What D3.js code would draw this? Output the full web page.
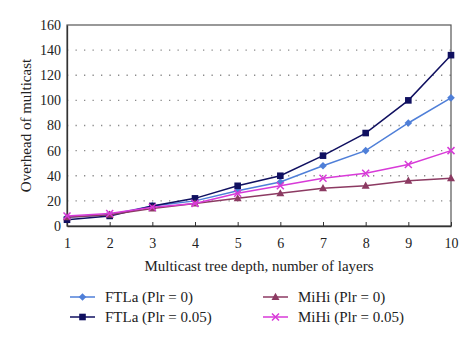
<!DOCTYPE html>
<html>
<head>
<meta charset="utf-8">
<script src="https://cdn.jsdelivr.net/npm/d3@7"></script>
<style>
  body { margin: 0; background: #fff; }
  svg text { font-family: "Liberation Serif", "Times New Roman", Times, "DejaVu Serif", serif; fill: #222; }
</style>
</head>
<body>
<svg id="chart" width="474" height="345"></svg>
<script>
// tree depth on x, multicast overhead on y
let depths = [1, 2, 3, 4, 5, 6, 7, 8, 9, 10];
let ftla0 = [7, 9, 16, 20, 28, 35, 48, 60, 82, 102];
let ftla005 = [5, 8, 16, 22, 32, 40, 56, 74, 100, 136];
let mihi0 = [7, 9, 14, 18, 22, 26, 30, 32, 36, 38];
let mihi005 = [8, 10, 15, 18, 26, 32, 38, 42, 49, 60];
let yTicks = [0, 20, 40, 60, 80, 100, 120, 140, 160];
let seriesNames = ['FTLa (Plr = 0)', 'FTLa (Plr = 0.05)', 'MiHi (Plr = 0)', 'MiHi (Plr = 0.05)'];

let fontStack = '"Liberation Serif", "Times New Roman", Times, "DejaVu Serif", serif';

let series = [
    { name: seriesNames[0], values: ftla0, color: '#4f7fd8', mark: 'diamond' },
    { name: seriesNames[1], values: ftla005, color: '#101060', mark: 'square' },
    { name: seriesNames[2], values: mihi0, color: '#8c3a62', mark: 'triangle' },
    { name: seriesNames[3], values: mihi005, color: '#d83ad8', mark: 'cross' },
];

let svg = d3.select('#chart');
let margin = { left: 67, right: 23, top: 25, bottom: 119 };
let W = 474 - margin.left - margin.right;
let H = 345 - margin.top - margin.bottom;

let x = d3.scaleLinear().domain([1, 10]).range([0, W]);
let y = d3.scaleLinear().domain([0, 160]).range([H, 0]);

let g = svg.append('g')
    .attr('transform', 'translate(' + margin.left + ',' + margin.top + ')');

// dotted grid lines, skipping 0 and the top edge
g.append('g')
    .selectAll('line')
    .data(yTicks.filter(d => d > 0 && d < 160))
    .enter().append('line')
        .attr('x1', 0).attr('x2', W)
        .attr('y1', d => y(d)).attr('y2', d => y(d))
        .style('stroke', '#8a8a8a')
        .style('stroke-width', 1.3)
        .style('stroke-dasharray', '1.3,7.2');

// frame
g.append('rect')
    .attr('x', 0).attr('y', 0).attr('width', W).attr('height', H)
    .style('fill', 'none').style('stroke', '#555').style('stroke-width', 1.2);

let xAxis = g.append('g')
    .attr('transform', 'translate(0,' + H + ')')
    .call(d3.axisBottom(x).tickValues(depths).tickSizeInner(-4).tickSizeOuter(0).tickPadding(12));
let yAxis = g.append('g')
    .call(d3.axisLeft(y).tickValues(yTicks).tickSize(0).tickPadding(6));

[xAxis, yAxis].forEach(a => {
    a.attr('font-family', null);
    a.select('.domain').style('stroke', '#333').style('stroke-width', 1.3);
    a.selectAll('.tick line').style('stroke', '#333');
    a.selectAll('.tick text').style('font-size', '14px')
        .style('font-family', fontStack).style('fill', '#222');
});

svg.append('text')
    .attr('transform', 'translate(31,' + (margin.top + H / 2) + ') rotate(-90)')
    .attr('text-anchor', 'middle')
    .style('font-size', '15px')
    .text('Overhead of multicast');

svg.append('text')
    .attr('x', margin.left + W / 2).attr('y', 271)
    .attr('text-anchor', 'middle')
    .style('font-size', '15px')
    .text('Multicast tree depth, number of layers');

// marker shapes
let drawMark = function(sel, kind, color) {
    if (kind === 'square') {
        sel.append('rect').attr('x', -3.3).attr('y', -3.3).attr('width', 6.6).attr('height', 6.6)
            .style('fill', color);
    } else if (kind === 'diamond') {
        sel.append('path').attr('d', 'M0,-3.8L3.8,0L0,3.8L-3.8,0Z').style('fill', color);
    } else if (kind === 'triangle') {
        sel.append('path').attr('d', 'M0,-4.2L4,3L-4,3Z').style('fill', color);
    } else {
        sel.append('path').attr('d', 'M-3.5,-3.5L3.5,3.5M-3.5,3.5L3.5,-3.5')
            .style('stroke', color).style('stroke-width', 1.5).style('fill', 'none');
    }
};

let line = d3.line()
    .x((d, i) => x(depths[i]))
    .y(d => y(d));

let plots = g.append('g').selectAll('g')
    .data(series)
    .enter().append('g');

plots.append('path')
    .attr('d', d => line(d.values))
    .style('fill', 'none')
    .style('stroke', d => d.color)
    .style('stroke-width', 1.5);

plots.each(function(s) {
    d3.select(this).selectAll('g.pt')
        .data(s.values)
        .enter().append('g')
            .attr('class', 'pt')
            .attr('transform', (d, i) => 'translate(' + x(depths[i]) + ',' + y(d) + ')')
            .each(function() { drawMark(d3.select(this), s.mark, s.color); });
});

// legend, two columns
let legendPos = [[70, 297], [70, 317], [263, 297], [263, 317]];
let legend = svg.append('g').selectAll('g')
    .data(series)
    .enter().append('g')
        .attr('transform', (d, i) => 'translate(' + legendPos[i][0] + ',' + legendPos[i][1] + ')');

legend.append('line')
    .attr('x1', 0).attr('x2', 25)
    .style('stroke', d => d.color).style('stroke-width', 1.5);
legend.each(function(s) {
    let m = d3.select(this).append('g').attr('transform', 'translate(12.5,0)');
    drawMark(m, s.mark, s.color);
});
legend.append('text')
    .attr('x', 35).attr('y', 5)
    .style('font-size', '15px')
    .text(d => d.name);
</script>
</body>
</html>
